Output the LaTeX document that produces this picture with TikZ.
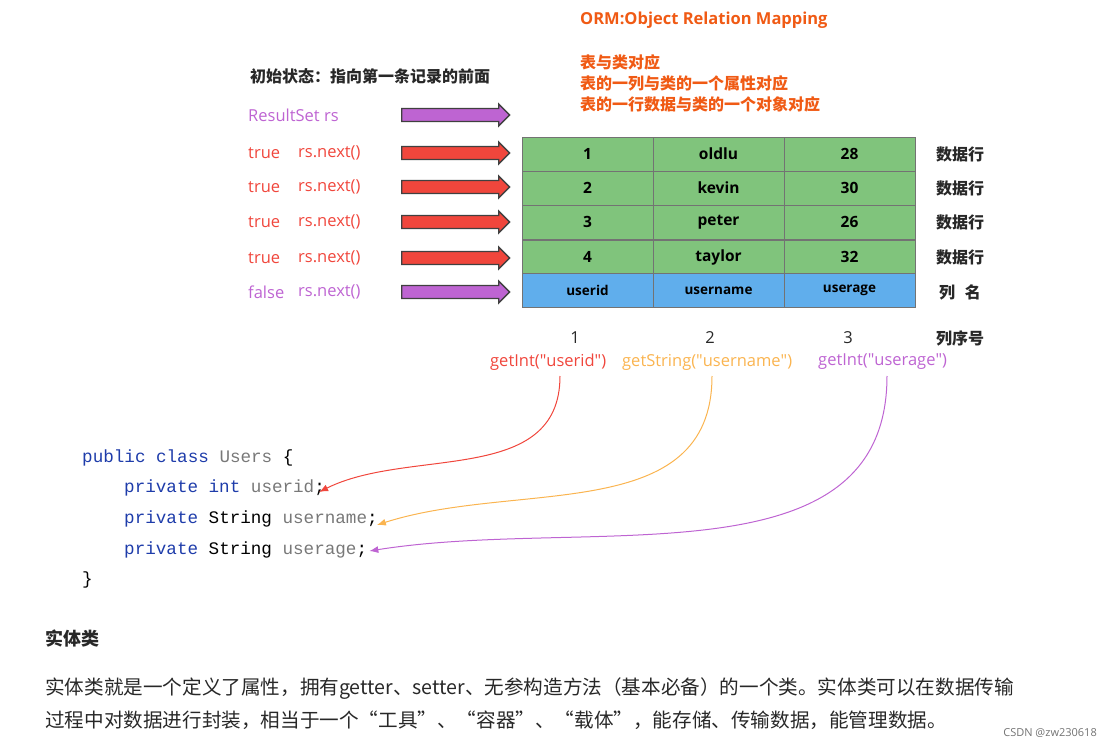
\documentclass[tikz,border=0pt]{standalone}
\usepackage{fontspec}
\setmainfont{Open Sans}
\setmonofont{Liberation Mono}
\newfontfamily\cjk{Noto Sans CJK SC}
\usetikzlibrary{arrows.meta,positioning,shapes.arrows}
\definecolor{ormOrange}{RGB}{240,90,20}
\definecolor{rsRed}{RGB}{240,70,60}
\definecolor{rsPurple}{RGB}{190,100,210}
\definecolor{getYellow}{RGB}{250,180,80}
\definecolor{cellGreen}{RGB}{128,196,124}
\definecolor{cellBlue}{RGB}{96,174,236}
\definecolor{codeBlue}{RGB}{30,60,170}
\definecolor{codeGray}{RGB}{120,120,120}
\definecolor{txtDark}{RGB}{40,40,40}
\newcommand{\qq}{\textquotedbl}
\tikzset{
    fatArrow/.style = {single arrow, draw=black!75, line width=1.3pt,
            minimum width=22pt, minimum height=108pt,
            single arrow head extend=4pt, single arrow head indent=0pt,
            inner xsep=0pt, inner ysep=5pt, anchor=west},
    cell/.style   = {draw=black!55, minimum width=131pt, minimum height=34pt,
            font=\fontsize{15.5}{15.5}\selectfont\bfseries, inner sep=0pt},
    lbl/.style    = {font=\fontsize{16.5}{16.5}\selectfont, inner sep=0pt},
    cjklbl/.style = {font=\cjk\fontsize{16}{16}\selectfont\bfseries, text=txtDark, inner sep=0pt},
    code/.style   = {font=\ttfamily\fontsize{17.6}{17.6}\selectfont, anchor=west, inner sep=0pt},
    link/.style   = {-{Latex[length=9pt,width=7pt]}, line width=1pt},
}
\begin{document}
\begin{tikzpicture}[x=1pt,y=-1pt]
    \useasboundingbox (0,0) rectangle (1111,749);
    % Headings
    \node[anchor=west, font=\fontsize{16.5}{16.5}\selectfont\bfseries, text=ormOrange, inner sep=0pt] (orm) at (580,20) {ORM:Object Relation Mapping};
    \node[cjklbl, anchor=west, text=ormOrange] (m1) at (580,62) {表与类对应};
    \node[cjklbl, anchor=west, text=ormOrange] (m2) at (580,83) {表的一列与类的一个属性对应};
    \node[cjklbl, anchor=west, text=ormOrange] (m3) at (580,104) {表的一行数据与类的一个对象对应};
    \node[cjklbl, anchor=west] (init) at (250,76) {初始状态：指向第一条记录的前面};

    % Cursor labels and arrows
    \node[lbl, anchor=west, text=rsPurple] (rs) at (248,115) {ResultSet rs};
    \node[fatArrow, fill=rsPurple] (a0) at (401,115) {};
    \foreach \i/\y/\v/\c in {1/153/true/rsRed, 2/187/true/rsRed, 3/222/true/rsRed, 4/258/true/rsRed, 5/292/false/rsPurple}{
        \node[lbl, anchor=west, text=\c] (b\i) at (248,\y) {\v};
        \node[lbl, anchor=west, text=\c] (n\i) at (298,\y) {rs.next()};
        \node[fatArrow, fill=\c] (a\i) at (401,\y) {};
    }

    % Table
    \foreach \i/\y/\id/\name/\age in {1/154/1/oldlu/28, 2/188/2/kevin/30, 3/222/3/peter/26, 4/257/4/taylor/32}{
        \node[cell, fill=cellGreen] (c\i a) at (587.5,\y) {\id};
        \node[cell, fill=cellGreen] (c\i b) at (718.5,\y) {\name};
        \node[cell, fill=cellGreen] (c\i c) at (849.5,\y) {\age};
        \node[cjklbl] (r\i) at (960,\y) {数据行};
    }
    \node[cell, fill=cellBlue, font=\fontsize{13.5}{13.5}\selectfont\bfseries] (h1) at (587.5,290.5) {userid};
    \node[cell, fill=cellBlue, font=\fontsize{13.5}{13.5}\selectfont\bfseries] (h2) at (718.5,290.5) {username};
    \node[cell, fill=cellBlue, font=\fontsize{13.5}{13.5}\selectfont\bfseries] (h3) at (849.5,290.5) {userage};
    \node[cjklbl] (colname) at (960,292) {列\hspace{0.6em}名};

    % Column numbers and getters
    \node[lbl, text=txtDark] (k1) at (575,338) {1};
    \node[lbl, text=txtDark] (k2) at (710,338) {2};
    \node[lbl, text=txtDark] (k3) at (848,338) {3};
    \node[cjklbl] (colno) at (960,338) {列序号};
    \node[lbl, anchor=west, text=rsRed] (g1) at (490,362) {getInt(\qq userid\qq)};
    \node[lbl, anchor=west, text=getYellow] (g2) at (622,362) {getString(\qq username\qq)};
    \node[lbl, anchor=west, text=rsPurple] (g3) at (818,362) {getInt(\qq userage\qq)};

    % Java class
    \node[code] (cls) at (82,458) {\textcolor{codeBlue}{public class} \textcolor{codeGray}{Users} \{};
    \node[code] (f1) at (124,488) {\textcolor{codeBlue}{private int} \textcolor{codeGray}{userid};};
    \node[code] (f2) at (124,519) {\textcolor{codeBlue}{private} String \textcolor{codeGray}{username};};
    \node[code] (f3) at (124,550) {\textcolor{codeBlue}{private} String \textcolor{codeGray}{userage};};
    \node[code] (end) at (82,580) {\}};
    \coordinate (s1) at (560,376);
    \coordinate (s2) at (712,376);
    \coordinate (s3) at (887,376);
    \coordinate (t1) at ([xshift=-6pt,yshift=-4pt]f1.east);
    \coordinate (t2) at ([xshift=-1pt,yshift=-6pt]f2.east);
    \coordinate (t3) at ([xshift=2pt,yshift=-1pt]f3.east);

    % Getter links
    \draw[link, rsRed] (s1) .. controls +(0,110) and +(90,-45) .. (t1);
    \draw[link, getYellow] (s2) .. controls +(0,150) and +(140,-45) .. (t2);
    \draw[link, rsPurple] (s3) .. controls +(0,210) and +(220,-35) .. (t3);

    % Text below
    \node[anchor=west, font=\cjk\fontsize{18}{18}\selectfont\bfseries, text=txtDark, inner sep=0pt] (ent) at (45,639) {实体类};
    \node[anchor=west, font=\cjk\fontsize{19.6}{19.6}\selectfont, text=txtDark, inner sep=0pt] (p1) at (45,689) {实体类就是一个定义了属性，拥有getter、setter、无参构造方法（基本必备）的一个类。实体类可以在数据传输};
    \node[anchor=west, font=\cjk\fontsize{19.6}{19.6}\selectfont, text=txtDark, inner sep=0pt] (p2) at (45,720) {过程中对数据进行封装，相当于一个“工具”、“容器”、“载体”，能存储、传输数据，能管理数据。};
    \node[anchor=east, font=\fontsize{11}{11}\selectfont, text=black!55, inner sep=0pt] (wm) at (1097,733) {CSDN @zw230618};
\end{tikzpicture}
\end{document}
